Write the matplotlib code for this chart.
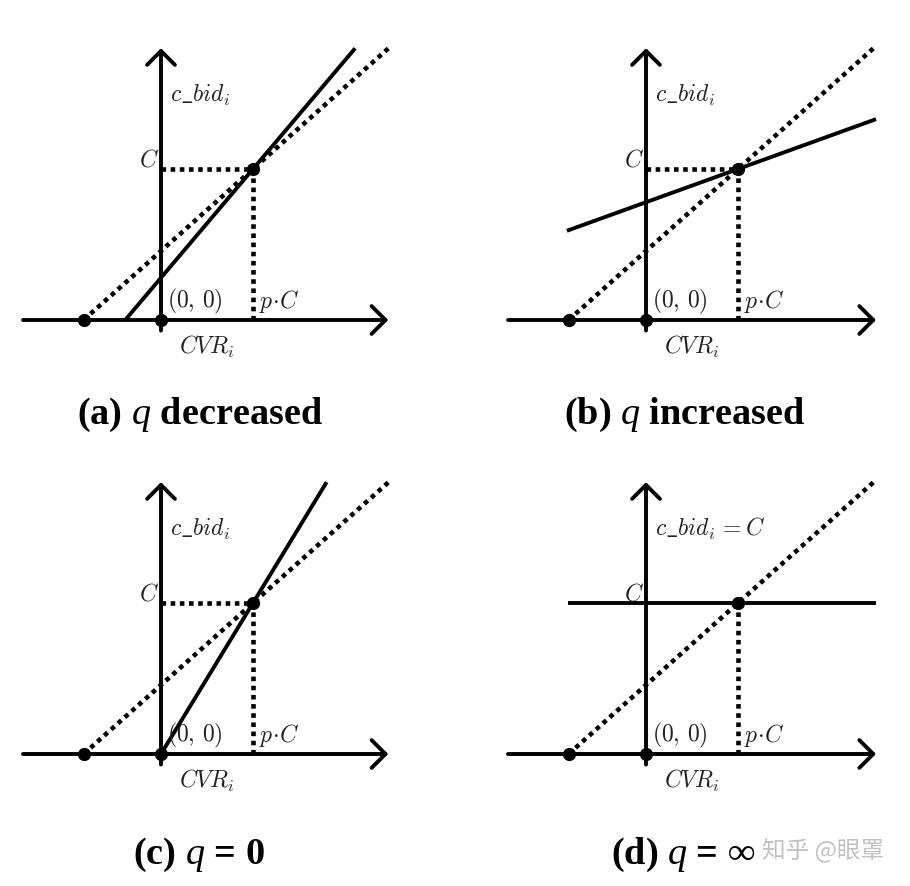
import numpy as np
import matplotlib.pyplot as plt

plt.rcParams['mathtext.fontset'] = 'cm'
plt.rcParams['mathtext.it'] = 'Liberation Serif:italic'

# normalised diagram values: intersection at (p*C, C)
p_C = 1.0
C = 1.0
dotted_x0 = -0.84          # x-intercept of the dotted reference line
dotted_slope = 0.543
top_y = 1.8

captions = ["(a) $q$ decreased", "(b) $q$ increased", "(c) $q$ = 0", "(d) $q$ = ∞"]
solid_slope = [0.72, 0.22, 1.0, 0.0]
solid_x_start = [-0.39, -0.86, 0.0, -0.85]
solid_x_end = [2.11, 2.5, 1.8, 2.5]
bid_labels = [r"$c\_bid_i$", r"$c\_bid_i$", r"$c\_bid_i$", r"$c\_bid_i\,{=}C$"]
show_c_guide = [True, True, True, False]
axis_x_end = [2.47, 2.5, 2.47, 2.5]

W, H = 910, 886
fig = plt.figure(figsize=(W / 100, H / 100), dpi=100)

origins = [(161, 320), (646, 320), (161, 754), (646, 754)]
xsc, ysc = 92, 151
xlim = (-1.7, 2.8)
ylim = (-0.5, 2.0)

for i, (ox, oy) in enumerate(origins):
    left = ox + xlim[0] * xsc
    bottom = oy - ylim[0] * ysc
    ax = fig.add_axes([left / W, 1 - bottom / H,
                       (xlim[1] - xlim[0]) * xsc / W, (ylim[1] - ylim[0]) * ysc / H])
    ax.set_xlim(*xlim)
    ax.set_ylim(*ylim)
    ax.axis('off')

    arrow = dict(arrowstyle='->,head_length=1.0,head_width=1.0', lw=2.8,
                 color='k', shrinkA=0, shrinkB=0, mutation_scale=10)
    ax.annotate('', xy=(axis_x_end[i], 0), xytext=(-1.5, 0), arrowprops=arrow)
    ax.annotate('', xy=(0, top_y), xytext=(0, -0.07), arrowprops=arrow)

    # dotted reference line
    dx = np.array([dotted_x0, dotted_x0 + top_y / dotted_slope])
    ax.plot(dx, C + dotted_slope * (dx - p_C), color='k', lw=3.3,
            linestyle=(0, (1, 1.0)), solid_capstyle='butt')

    # guides
    if show_c_guide[i]:
        ax.plot([0, p_C], [C, C], color='k', lw=3.3, linestyle=(0, (1, 1.0)))
    ax.plot([p_C, p_C], [0, C], color='k', lw=3.3, linestyle=(0, (1, 1.0)))

    # solid bid line
    sx = np.array([solid_x_start[i], solid_x_end[i]])
    ax.plot(sx, C + solid_slope[i] * (sx - p_C), color='k', lw=2.8,
            solid_capstyle='butt')

    ax.plot([dotted_x0, 0, p_C], [0, 0, C], 'o', color='k', ms=8.5)

    ax.text(0.1, 1.49, bid_labels[i], fontsize=17, ha='left', va='center',
            color='#222222', math_fontfamily='cm')
    ax.text(-0.02, 1.06, "$C$", fontsize=17, ha='right', va='center',
            color='#222222', math_fontfamily='cm')
    ax.text(0.07, 0.12, "$(0,\\,0)$", fontsize=17, ha='left', va='center',
            color='#222222', math_fontfamily='cm')
    ax.text(1.07, 0.12, r"$p\!\cdot\! C$", fontsize=17, ha='left', va='center',
            color='#222222', math_fontfamily='cm')
    ax.text(0.2, -0.18, r"$CVR_i$", fontsize=17, ha='left', va='center',
            color='#222222', math_fontfamily='cm')

cap_pos = [(200, 415), (685, 415), (199, 855), (683, 855)]
for (cx, cy), cap in zip(cap_pos, captions):
    fig.text(cx / W, 1 - cy / H, cap, fontsize=27.5, fontweight='bold',
             family=['Liberation Serif', 'DejaVu Serif'], ha='center', va='center',
             math_fontfamily='custom')

fig.text(762 / W, 1 - 850 / H, "知乎 @眼罩", fontsize=17, color='#bbbbbb',
         family=['Noto Sans CJK SC', 'DejaVu Sans'], ha='left', va='center', alpha=0.9)

fig.savefig('out.png', dpi=100)
